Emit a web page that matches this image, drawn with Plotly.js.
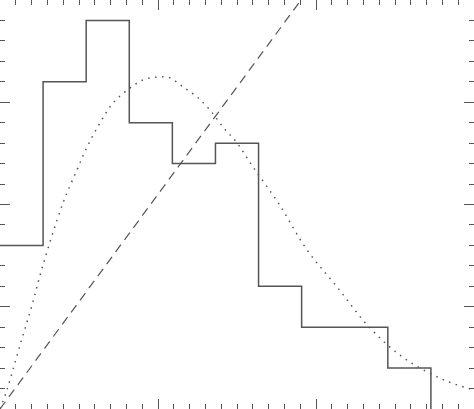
<!DOCTYPE html>
<html>
<head>
<meta charset="utf-8">
<script src="https://cdn.plot.ly/plotly-3.0.1.min.js"></script>
<style>
  html, body { margin: 0; padding: 0; background: #fff; }
  #chart { width: 474px; height: 409px; }
</style>
</head>
<body>
<div id="chart"></div>
<script>
// histogram counts, 11 equal bins over the x range
const binCounts = [8, 16, 19, 14, 12, 13, 6, 4, 4, 2, 0];
const xMin = 0;
const xMax = 30;

// dotted model curve
const curveX = [0, 0.44, 1.27, 2.03, 2.72, 3.99, 4.87, 5.51, 6.33, 7.15, 8.23, 9.05, 9.94, 10.76, 11.58, 12.47, 13.29, 14.11, 15.0, 16.01, 17.66, 19.43, 21.33, 23.42, 25.57, 28.10, 30.0];
const curveY = [0, 0.93, 3.13, 5.09, 7.04, 10.08, 11.69, 12.81, 13.99, 14.96, 15.70, 16.09, 16.23, 16.19, 15.75, 15.26, 14.62, 13.79, 13.01, 11.84, 10.02, 7.78, 5.97, 3.96, 2.49, 1.42, 0.93];

// dashed straight line
const lineX = [0, 19.05];
const lineY = [0, 20];

// bin edges for the step outline (stops where the last bin is empty)
const binWidth = (xMax - xMin) / binCounts.length;
const stepX = [];
const stepY = [];
binCounts.forEach(function (c, i) {
  stepX.push(xMin + i * binWidth);
  stepY.push(c);
});

const ink = '#555';

var data = [
  {
    x: stepX,
    y: stepY,
    mode: 'lines',
    line: { shape: 'hv', color: ink, width: 1.5 },
    hoverinfo: 'skip'
  },
  {
    x: curveX,
    y: curveY,
    mode: 'lines',
    line: { shape: 'spline', color: ink, width: 1.5, dash: '1.5px,5.5px' },
    hoverinfo: 'skip'
  },
  {
    x: lineX,
    y: lineY,
    mode: 'lines',
    line: { color: ink, width: 1.2, dash: '9px,6px' },
    hoverinfo: 'skip'
  }
];

var axisCommon = {
  showgrid: false,
  zeroline: false,
  showline: false,
  showticklabels: false,
  ticks: 'inside',
  tickcolor: ink,
  tickwidth: 1,
  ticklen: 10,
  mirror: 'allticks',
  fixedrange: true
};

var layout = {
  width: 474,
  height: 409,
  margin: { l: 0, r: 0, t: 0, b: 0, pad: 0 },
  paper_bgcolor: '#fff',
  plot_bgcolor: '#fff',
  showlegend: false,
  xaxis: Object.assign({}, axisCommon, {
    range: [xMin, xMax],
    tickmode: 'linear',
    tick0: 0,
    dtick: 10,
    minor: { ticks: 'inside', dtick: 1, ticklen: 5, tickcolor: ink, tickwidth: 1 }
  }),
  yaxis: Object.assign({}, axisCommon, {
    range: [0, 20],
    tickmode: 'linear',
    tick0: 0,
    dtick: 5,
    minor: { ticks: 'inside', dtick: 1, ticklen: 5, tickcolor: ink, tickwidth: 1 }
  })
};

var config = {
  staticPlot: true,
  displayModeBar: false
};

Plotly.newPlot('chart', data, layout, config);
</script>
</body>
</html>
